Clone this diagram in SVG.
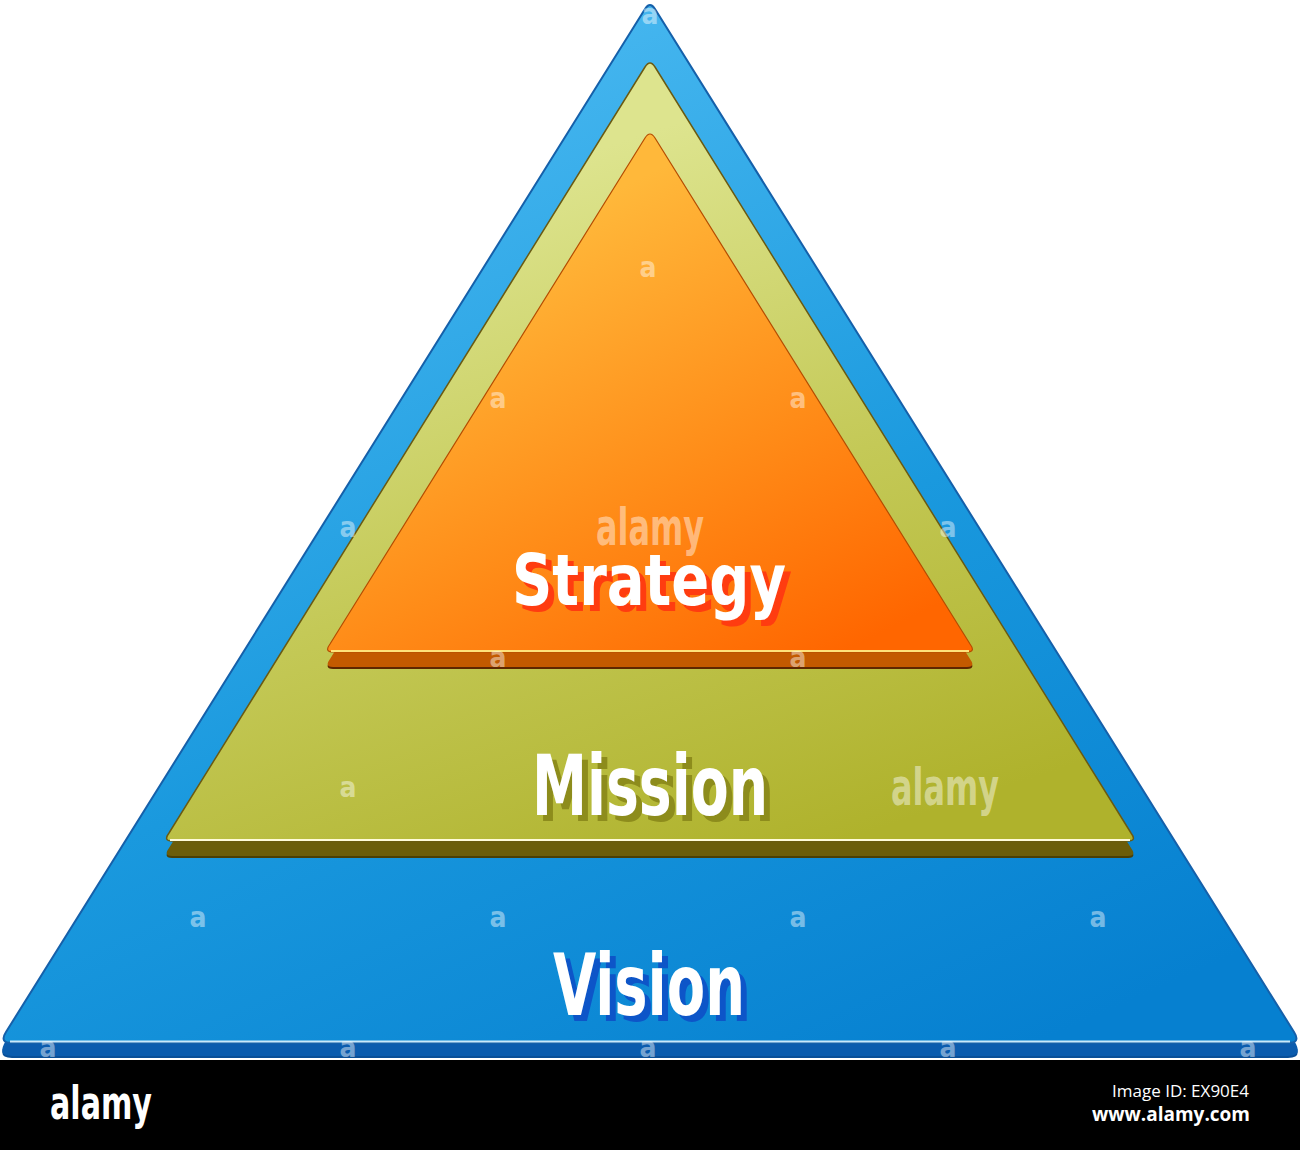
<svg xmlns="http://www.w3.org/2000/svg" width="1300" height="1150" viewBox="0 0 1300 1150">
<defs>
<linearGradient id="gBlue" x1="0.3" y1="0.1" x2="0.8" y2="1">
<stop offset="0" stop-color="#45b6ef"/>
<stop offset="0.5" stop-color="#1a99de"/>
<stop offset="1" stop-color="#0680d0"/>
</linearGradient>
<linearGradient id="gGreen" x1="0.35" y1="0.15" x2="0.7" y2="1">
<stop offset="0" stop-color="#dde48e"/>
<stop offset="0.5" stop-color="#c4c957"/>
<stop offset="1" stop-color="#afb22c"/>
</linearGradient>
<linearGradient id="gOrange" x1="0.3" y1="0.2" x2="0.8" y2="1">
<stop offset="0" stop-color="#ffb83a"/>
<stop offset="0.55" stop-color="#ff8c18"/>
<stop offset="1" stop-color="#ff6600"/>
</linearGradient>
<style>
.lbl{font-family:"Liberation Sans Narrow","DejaVu Sans Condensed","Liberation Sans",sans-serif;font-weight:bold;text-anchor:middle}
.wm{font-family:"Liberation Sans Narrow","DejaVu Sans Condensed","Liberation Sans",sans-serif;font-weight:bold;text-anchor:middle;fill:#ffffff;fill-opacity:0.45}
.foot{font-family:"Open Sans","DejaVu Sans",sans-serif;fill:#ffffff;text-anchor:end}
</style>
</defs>
<rect width="1300" height="1150" fill="#ffffff"/>

<g id="node-vision">
<path d="M645,23 Q650,15 655,23 L1296,1046 Q1302,1058 1288,1058 L12,1058 Q-2,1058 4,1046 Z" fill="#0a4f98"/>
<path d="M645,21 Q650,13 655,21 L1296,1044 Q1302,1056 1288,1056 L12,1056 Q-2,1056 4,1044 Z" fill="#0b5cae"/>
<path d="M645,9 Q650,1 655,9 L1294,1032 Q1301,1043 1288,1043 L12,1043 Q-1,1043 6,1032 Z" fill="url(#gBlue)" stroke="#1560aa" stroke-width="2"/>
<line x1="10" y1="1041.5" x2="1290" y2="1041.5" stroke="#cbe9fa" stroke-width="2"/>
<text class="lbl" x="655" y="1021" font-size="86" fill="#0d55c8" textLength="192" lengthAdjust="spacingAndGlyphs">Vision</text>
<text class="lbl" x="649" y="1015" font-size="86" fill="#ffffff" textLength="192" lengthAdjust="spacingAndGlyphs">Vision</text>
</g>

<g id="node-mission">
<path d="M645,84 Q650,76 655,84 L1131,850 Q1137,858 1128,858 L172,858 Q163,858 169,850 Z" fill="#4a3f05"/>
<path d="M645,82 Q650,74 655,82 L1131,848 Q1137,856 1128,856 L172,856 Q163,856 169,848 Z" fill="#6b5d0a"/>
<path d="M645,67 Q650,59 655,67 L1131,833 Q1137,841 1128,841 L172,841 Q163,841 169,833 Z" fill="url(#gGreen)" stroke="#6a5a12" stroke-width="1.5"/>
<line x1="170" y1="840" x2="1130" y2="840" stroke="#fffbd8" stroke-width="2"/>
<text class="lbl" x="656" y="821" font-size="84" fill="#8d8c1c" textLength="236" lengthAdjust="spacingAndGlyphs">Mission</text>
<text class="lbl" x="650" y="815" font-size="84" fill="#ffffff" textLength="236" lengthAdjust="spacingAndGlyphs">Mission</text>
</g>

<g id="node-strategy">
<path d="M645,155 Q650,147 655,155 L970,661 Q976,669 967,669 L333,669 Q324,669 330,661 Z" fill="#5e2600"/>
<path d="M645,153 Q650,145 655,153 L970,659 Q976,667 967,667 L333,667 Q324,667 330,659 Z" fill="#c35a00"/>
<path d="M645,138 Q650,130 655,138 L970,644 Q976,652 967,652 L333,652 Q324,652 330,644 Z" fill="url(#gOrange)" stroke="#b54c00" stroke-width="1.2"/>
<line x1="331" y1="651" x2="969" y2="651" stroke="#ffe27a" stroke-width="2"/>
<text class="lbl" x="655" y="611" font-size="72" fill="#ff3c10" textLength="274" lengthAdjust="spacingAndGlyphs">Strategy</text>
<text class="lbl" x="649" y="605" font-size="72" fill="#ffffff" textLength="274" lengthAdjust="spacingAndGlyphs">Strategy</text>
</g>

<g id="connectors"/>

<g id="watermarks">
<text class="wm" x="650" y="545" font-size="52" textLength="108" lengthAdjust="spacingAndGlyphs">alamy</text>
<text class="wm" x="945" y="805" font-size="52" textLength="108" lengthAdjust="spacingAndGlyphs">alamy</text>
<text class="wm" x="650" y="24" font-size="28">a</text>
<text class="wm" x="648" y="277" font-size="28">a</text>
<text class="wm" x="498" y="408" font-size="28">a</text>
<text class="wm" x="798" y="408" font-size="28">a</text>
<text class="wm" x="348" y="537" font-size="28">a</text>
<text class="wm" x="948" y="537" font-size="28">a</text>
<text class="wm" x="498" y="667" font-size="28">a</text>
<text class="wm" x="798" y="667" font-size="28">a</text>
<text class="wm" x="348" y="797" font-size="28">a</text>
<text class="wm" x="198" y="927" font-size="28">a</text>
<text class="wm" x="498" y="927" font-size="28">a</text>
<text class="wm" x="798" y="927" font-size="28">a</text>
<text class="wm" x="1098" y="927" font-size="28">a</text>
<text class="wm" x="48" y="1057" font-size="28">a</text>
<text class="wm" x="348" y="1057" font-size="28">a</text>
<text class="wm" x="648" y="1057" font-size="28">a</text>
<text class="wm" x="948" y="1057" font-size="28">a</text>
<text class="wm" x="1248" y="1057" font-size="28">a</text>
</g>

<g id="footer">
<rect x="0" y="1060" width="1300" height="90" fill="#000000"/>
<text x="50" y="1119" font-family="'Liberation Sans Narrow','DejaVu Sans Condensed','Liberation Sans',sans-serif" font-weight="bold" font-size="46" fill="#ffffff" textLength="102" lengthAdjust="spacingAndGlyphs">alamy</text>
<text class="foot" x="1249" y="1097" font-size="17">Image ID: EX90E4</text>
<text class="foot" x="1250" y="1121" font-size="19" font-weight="bold">www.alamy.com</text>
</g>
</svg>
